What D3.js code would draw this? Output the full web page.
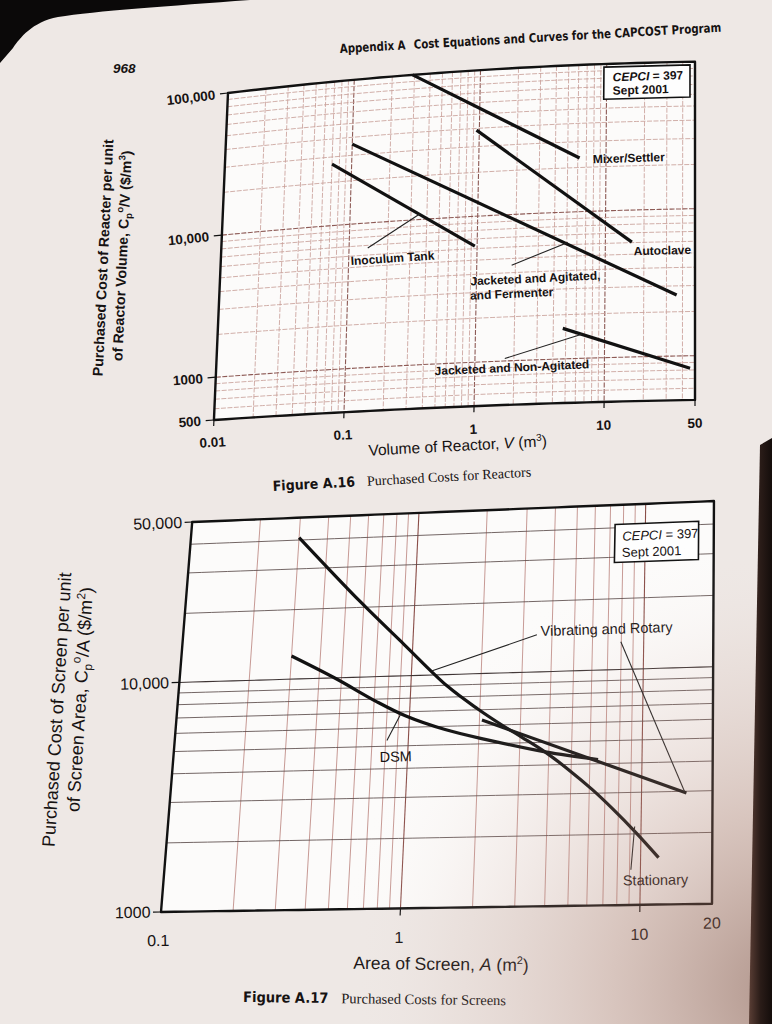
<!DOCTYPE html>
<html>
<head>
<meta charset="utf-8">
<script src="https://cdn.jsdelivr.net/npm/d3@7"></script>
<style>
html,body{margin:0;padding:0;background:#eee8e5;}
svg{display:block;}
text{font-family:"Liberation Sans",Arial,sans-serif;fill:#161212;}
</style>
</head>
<body>
<svg id="chart" width="772" height="1024"></svg>
<script>
// ================= Figure A.16 : Purchased Costs for Reactors =================
const reactorXTicks = [0.01, 0.1, 1, 10, 50];
const reactorXTickLabels = ["0.01", "0.1", "1", "10", "50"];
const reactorYTicks = [500, 1000, 10000, 100000];
const reactorYTickLabels = ["500", "1000", "10,000", "100,000"];
// [volume m3, cost per unit volume $/m3]
const mixerSettler = [[0.29, 100000], [6.2, 23200]];
const autoclave = [[0.95, 38900], [16.1, 6050]];
const jacketedAgitated = [[0.1, 35900], [36, 2600]];
const inoculumTank = [[0.07, 26800], [0.96, 6240]];
const jacketedNonAgitated = [[4.74, 1615], [45.8, 822]];
const reactorLabelText = ["Mixer/Settler", "Autoclave", "Inoculum Tank", "Jacketed and Agitated,", "and Fermenter", "Jacketed and Non-Agitated"];
const reactorLabelAt = [[7.9, 21200], [16.7, 4920], [0.1045, 5200], [0.90, 3370], [0.90, 2690], [0.493, 838]];
const reactorLeaders = [
  [[0.14, 6700], [0.351, 10900]],
  [[1.87, 4500], [5.09, 6210]],
  [[1.70, 1040], [6.65, 1460]]
];

// ================= Figure A.17 : Purchased Costs for Screens =================
const screenXTicks = [0.1, 1, 10, 20];
const screenXTickLabels = ["0.1", "1", "10", "20"];
const screenYTicks = [1000, 10000, 50000];
const screenYTickLabels = ["1000", "10,000", "50,000"];
// [area m2, cost per unit area $/m2]
const steepCurve = [[0.30, 41000], [0.58, 21100], [0.92, 13600], [1.44, 8900], [1.96, 7060], [2.5, 5990], [3.06, 5280], [3.85, 4550], [4.86, 3810], [6.2, 3100], [7.55, 2570], [9.5, 2030], [11.9, 1580]];
const shortLine = [[2.05, 6320], [15.5, 2950]];
const dsm = [[0.30, 12600], [0.47, 9960], [0.71, 7850], [0.96, 6730], [1.43, 5810], [2.13, 5220], [3.86, 4550], [6.5, 4170]];
const screenLabelText = ["Vibrating and Rotary", "DSM", "Stationary"];
const screenLabelAt = [[3.58, 14200], [0.893, 4280], [11.6, 1210]];
const screenLabelAnchor = ["start", "middle", "middle"];
const screenLeaders = [
  [[3.44, 14400], [1.22, 10400]],
  [[7.96, 13100], [15.2, 3000]],
  [[0.81, 5290], [0.92, 6900]],
  [[9.12, 1410], [9.4, 2150]]
];

// ---------------------------------------------------------------------------
const svg = d3.select("#chart");
const defs = svg.append("defs");

svg.append("rect").attr("width", 772).attr("height", 1024).attr("fill", "#eee8e5");

// photo perspective of each printed chart
function projTop(xf, yf) {
  const t = (xf - 228) / 467, v = (yf - 93) / 327;
  const xp = xf - (yf - 93) * 0.043 * (1 - t);
  const yp = yf - (xf - 228) * (0.067 - 0.024 * v) - 6 * 4 * t * (1 - t) * (1 - 0.5 * v);
  return [xp, yp];
}
function projBot(xf, yf) {
  const t = (xf - 161) / 551, u = (912 - yf) / 390;
  const xp = xf + u * 390 * (0.08 * (1 - t) + 0.005 * t);
  const yp = yf - (xf - 161) * (0.015 + 0.023 * u);
  return [xp, yp];
}

const samples = d3.range(0, 1.0001, 1 / 40);

function framePath(proj, x0, x1, y0, y1) {
  const pts = [];
  samples.forEach(s => pts.push(proj(x0 + (x1 - x0) * s, y0)));
  samples.forEach(s => pts.push(proj(x1, y0 + (y1 - y0) * s)));
  samples.forEach(s => pts.push(proj(x1 - (x1 - x0) * s, y1)));
  samples.forEach(s => pts.push(proj(x0, y1 - (y1 - y0) * s)));
  return d3.line()(pts) + "Z";
}

function placeText(g, proj, xf, yf, txt, opts) {
  const p0 = proj(xf, yf), p1 = proj(xf + 30, yf);
  const ang = Math.atan2(p1[1] - p0[1], p1[0] - p0[0]) * 180 / Math.PI;
  const t = g.append("text")
    .attr("transform", `translate(${p0[0].toFixed(2)},${p0[1].toFixed(2)}) rotate(${ang.toFixed(2)})`)
    .attr("text-anchor", opts.anchor || "start")
    .attr("font-size", opts.size || 12)
    .attr("font-weight", opts.weight || "normal")
    .text(txt);
  if (opts.style) t.attr("font-style", opts.style);
  return t;
}

function isDecade(v) { const l = Math.log10(v); return Math.abs(l - Math.round(l)) < 1e-9; }

function drawChart(cfg) {
  const g = svg.append("g");
  const { proj, xs, ys } = cfg;
  const [x0, x1] = xs.range();
  const [yb, yt] = ys.range();
  g.append("path").attr("d", framePath(proj, x0, x1, yt, yb)).attr("fill", "#fcfbfa");
  xs.ticks().forEach(v => {
    const xf = xs(v);
    if (xf <= x0 + 0.5 || xf >= x1 - 0.5) return;
    const a = proj(xf, yt), b = proj(xf, yb);
    g.append("line").attr("x1", a[0]).attr("y1", a[1]).attr("x2", b[0]).attr("y2", b[1])
      .attr("stroke", isDecade(v) ? cfg.vMajor : cfg.vMinor)
      .attr("stroke-width", isDecade(v) ? 1.1 : 0.8)
      .attr("stroke-dasharray", cfg.dash || null);
  });
  ys.ticks().forEach(v => {
    const yf = ys(v);
    if (yf <= yt + 0.5 || yf >= yb - 0.5) return;
    const pts = samples.map(s => proj(x0 + (x1 - x0) * s, yf));
    g.append("path").attr("d", d3.line()(pts)).attr("fill", "none")
      .attr("stroke", isDecade(v) ? cfg.hMajor : cfg.hMinor)
      .attr("stroke-width", isDecade(v) ? 1.1 : 0.85)
      .attr("stroke-dasharray", cfg.dash || null);
  });
  g.append("path").attr("d", framePath(proj, x0, x1, yt, yb))
    .attr("fill", "none").attr("stroke", "#111").attr("stroke-width", 2.4).attr("stroke-linejoin", "round");
  return g;
}

function seriesPath(g, proj, xs, ys, data, curve, width) {
  const pts = data.map(d => proj(xs(d[0]), ys(d[1])));
  g.append("path").attr("d", d3.line().curve(curve)(pts))
    .attr("fill", "none").attr("stroke", "#111").attr("stroke-width", width)
    .attr("stroke-linecap", "butt").attr("stroke-linejoin", "round");
}
function leader(g, proj, xs, ys, seg) {
  const a = proj(xs(seg[0][0]), ys(seg[0][1])), b = proj(xs(seg[1][0]), ys(seg[1][1]));
  g.append("line").attr("x1", a[0]).attr("y1", a[1]).attr("x2", b[0]).attr("y2", b[1])
    .attr("stroke", "#222").attr("stroke-width", 1.1);
}
function box(g, proj, x0, x1, y0, y1) {
  const pts = [proj(x0, y0), proj(x1, y0), proj(x1, y1), proj(x0, y1)];
  g.append("path").attr("d", d3.line()(pts) + "Z").attr("fill", "#fefefe")
    .attr("stroke", "#111").attr("stroke-width", 1.6);
}

// ---------------- top chart ----------------
const xT = d3.scaleLog().domain([0.01, 50]).range([228, 695]);
const yT = d3.scaleLog().domain([500, 100000]).range([420, 93]);
const gT = drawChart({ proj: projTop, xs: xT, ys: yT,
  vMajor: "#8d5a55", vMinor: "#c79a94", hMajor: "#8d5a55", hMinor: "#c9a09a", dash: "5 1.5" });

[mixerSettler, autoclave, jacketedAgitated, inoculumTank, jacketedNonAgitated]
  .forEach(s => seriesPath(gT, projTop, xT, yT, s, d3.curveLinear, 3.2));
reactorLeaders.forEach(s => leader(gT, projTop, xT, yT, s));
reactorLabelText.forEach((txt, i) => {
  placeText(gT, projTop, xT(reactorLabelAt[i][0]), yT(reactorLabelAt[i][1]), txt, { size: 12, weight: "bold" });
});
reactorXTicks.forEach((v, i) => {
  const a = projTop(xT(v), 420), b = projTop(xT(v), 426);
  gT.append("line").attr("x1", a[0]).attr("y1", a[1]).attr("x2", b[0]).attr("y2", b[1]).attr("stroke", "#111").attr("stroke-width", 1.2);
  placeText(gT, projTop, xT(v), 447, reactorXTickLabels[i], { size: 13.5, weight: "bold", anchor: "middle" });
});
reactorYTicks.forEach((v, i) => {
  const a = projTop(228 - 8, yT(v)), b = projTop(228, yT(v));
  gT.append("line").attr("x1", a[0]).attr("y1", a[1]).attr("x2", b[0]).attr("y2", b[1]).attr("stroke", "#111").attr("stroke-width", 1.2);
  placeText(gT, projTop, 228 - 12, yT(v) + 5, reactorYTickLabels[i], { size: 13.5, weight: "bold", anchor: "end" });
});
box(gT, projTop, 604, 690, 96, 127);
const cT = placeText(gT, projTop, 613, 110, "", { size: 12, weight: "bold" });
cT.append("tspan").attr("font-style", "italic").text("CEPCI");
cT.append("tspan").text(" = 397");
placeText(gT, projTop, 613, 123, "Sept 2001", { size: 12, weight: "bold" });

// ---------------- bottom chart ----------------
const xB = d3.scaleLog().domain([0.1, 20]).range([161, 712]);
const yB = d3.scaleLog().domain([1000, 50000]).range([912, 522]);
const gB = drawChart({ proj: projBot, xs: xB, ys: yB,
  vMajor: "#8a4e48", vMinor: "#b9807a", hMajor: "#3e3434", hMinor: "#5a4a49" });

seriesPath(gB, projBot, xB, yB, steepCurve, d3.curveCatmullRom, 3.2);
seriesPath(gB, projBot, xB, yB, shortLine, d3.curveLinear, 3.2);
seriesPath(gB, projBot, xB, yB, dsm, d3.curveCatmullRom, 3.2);
screenLeaders.forEach(s => leader(gB, projBot, xB, yB, s));
screenLabelText.forEach((txt, i) => {
  placeText(gB, projBot, xB(screenLabelAt[i][0]), yB(screenLabelAt[i][1]), txt, { size: 14.5, anchor: screenLabelAnchor[i] });
});
screenXTicks.forEach((v, i) => {
  const a = projBot(xB(v), 912), b = projBot(xB(v), 919);
  if (i > 0 && i < 3) gB.append("line").attr("x1", a[0]).attr("y1", a[1]).attr("x2", b[0]).attr("y2", b[1]).attr("stroke", "#111").attr("stroke-width", 1.2);
  placeText(gB, projBot, xB(v), i === 3 ? 936 : 946, screenXTickLabels[i], { size: 16, anchor: "middle" });
});
screenYTicks.forEach((v, i) => {
  const a = projBot(161 - 8, yB(v)), b = projBot(161, yB(v));
  gB.append("line").attr("x1", a[0]).attr("y1", a[1]).attr("x2", b[0]).attr("y2", b[1]).attr("stroke", "#111").attr("stroke-width", 1.2);
  placeText(gB, projBot, 161 - 10, yB(v) + 5.5, screenYTickLabels[i], { size: 16, anchor: "end" });
});
box(gB, projBot, 608, 696, 541, 578);
const cB = placeText(gB, projBot, 616, 557, "", { size: 13 });
cB.append("tspan").attr("font-style", "italic").text("CEPCI");
cB.append("tspan").text(" = 397");
placeText(gB, projBot, 616, 573, "Sept 2001", { size: 13 });

// ---------------- page texts ----------------
const hdr = svg.append("text").attr("transform", "translate(340,53) rotate(-3.2)")
  .attr("font-size", 12.5).attr("font-weight", "bold")
  .attr("textLength", 382).attr("lengthAdjust", "spacingAndGlyphs")
  .style("font-family", "'Liberation Sans Narrow','DejaVu Sans Condensed',sans-serif");
hdr.append("tspan").text("Appendix A");
hdr.append("tspan").attr("dx", 9).text("Cost Equations and Curves for the CAPCOST Program");
svg.append("text").attr("x", 113).attr("y", 73).attr("font-size", 13.5)
  .attr("font-weight", "bold").attr("font-style", "italic").text("968");

const tx1 = svg.append("text").attr("transform", "translate(458,451) rotate(-3)")
  .attr("text-anchor", "middle").attr("font-size", 15.5);
tx1.append("tspan").text("Volume of Reactor, ");
tx1.append("tspan").attr("font-style", "italic").text("V");
tx1.append("tspan").text(" (m");
tx1.append("tspan").attr("font-size", 10).attr("dy", -6).text("3");
tx1.append("tspan").attr("dy", 6).text(")");

svg.append("text").attr("transform", "translate(108,258) rotate(-87.4)")
  .attr("text-anchor", "middle").attr("font-size", 14.2).attr("font-weight", "bold")
  .text("Purchased Cost of Reacter per unit");
const ty2 = svg.append("text").attr("transform", "translate(127,256) rotate(-87.4)")
  .attr("text-anchor", "middle").attr("font-size", 14.2).attr("font-weight", "bold");
ty2.append("tspan").text("of Reactor Volume, C");
ty2.append("tspan").attr("font-size", 9.5).attr("dy", 3).text("p");
ty2.append("tspan").attr("font-size", 9.5).attr("dy", -9).text("o");
ty2.append("tspan").attr("dy", 6).text("/V ($/m");
ty2.append("tspan").attr("font-size", 9.5).attr("dy", -6).text("3");
ty2.append("tspan").attr("dy", 6).text(")");

const cap1 = svg.append("text").attr("transform", "translate(273,491) rotate(-3.2)").attr("font-size", 14);
cap1.append("tspan").attr("font-weight", "bold")
  .style("font-family", "'Liberation Sans Narrow','DejaVu Sans Condensed',sans-serif").text("Figure A.16");
cap1.append("tspan").attr("dx", 12).style("font-family", "'Liberation Serif','DejaVu Serif',serif")
  .text("Purchased Costs for Reactors");

const bx1 = svg.append("text").attr("transform", "translate(441,970) rotate(0.8)")
  .attr("text-anchor", "middle").attr("font-size", 17.5);
bx1.append("tspan").text("Area of Screen, ");
bx1.append("tspan").attr("font-style", "italic").text("A");
bx1.append("tspan").text(" (m");
bx1.append("tspan").attr("font-size", 11).attr("dy", -7).text("2");
bx1.append("tspan").attr("dy", 7).text(")");

svg.append("text").attr("transform", "translate(63,710) rotate(-86.5)")
  .attr("text-anchor", "middle").attr("font-size", 18).text("Purchased Cost of Screen per unit");
const by2 = svg.append("text").attr("transform", "translate(86,700) rotate(-86.5)")
  .attr("text-anchor", "middle").attr("font-size", 18);
by2.append("tspan").text("of Screen Area, C");
by2.append("tspan").attr("font-size", 12).attr("dy", 4).text("p");
by2.append("tspan").attr("font-size", 12).attr("dy", -12).text("o");
by2.append("tspan").attr("dy", 8).text("/A ($/m");
by2.append("tspan").attr("font-size", 12).attr("dy", -7).text("2");
by2.append("tspan").attr("dy", 7).text(")");

const cap2 = svg.append("text").attr("transform", "translate(243,1002) rotate(0.7)").attr("font-size", 14.5);
cap2.append("tspan").attr("font-weight", "bold")
  .style("font-family", "'Liberation Sans Narrow','DejaVu Sans Condensed',sans-serif").text("Figure A.17");
cap2.append("tspan").attr("dx", 13).style("font-family", "'Liberation Serif','DejaVu Serif',serif")
  .text("Purchased Costs for Screens");

// ---------------- photo lighting & page edges ----------------
const rg = defs.append("radialGradient").attr("id", "shade").attr("gradientUnits", "userSpaceOnUse")
  .attr("cx", 790).attr("cy", 990).attr("r", 460);
rg.append("stop").attr("offset", 0).attr("stop-color", "#7a4d3e").attr("stop-opacity", 0.55);
rg.append("stop").attr("offset", 0.4).attr("stop-color", "#a87868").attr("stop-opacity", 0.3);
rg.append("stop").attr("offset", 0.75).attr("stop-color", "#c9a59a").attr("stop-opacity", 0.1);
rg.append("stop").attr("offset", 1).attr("stop-color", "#ffffff").attr("stop-opacity", 0);
svg.append("rect").attr("width", 772).attr("height", 1024).attr("fill", "url(#shade)").attr("pointer-events", "none");

const eg = defs.append("linearGradient").attr("id", "edge").attr("x1", 0).attr("x2", 1).attr("y1", 0).attr("y2", 0);
eg.append("stop").attr("offset", 0).attr("stop-color", "#5a3e35");
eg.append("stop").attr("offset", 0.5).attr("stop-color", "#2a1c18");
eg.append("stop").attr("offset", 1).attr("stop-color", "#140d0b");
svg.append("path").attr("d", "M760,445 L772,438 L772,1024 L749,1024 Z").attr("fill", "url(#edge)");
svg.append("path").attr("d", "M0,0 L250,0 C170,6 95,11 58,17 C32,22 20,38 13,48 L0,63 Z").attr("fill", "#0b0909");
</script>
</body>
</html>
